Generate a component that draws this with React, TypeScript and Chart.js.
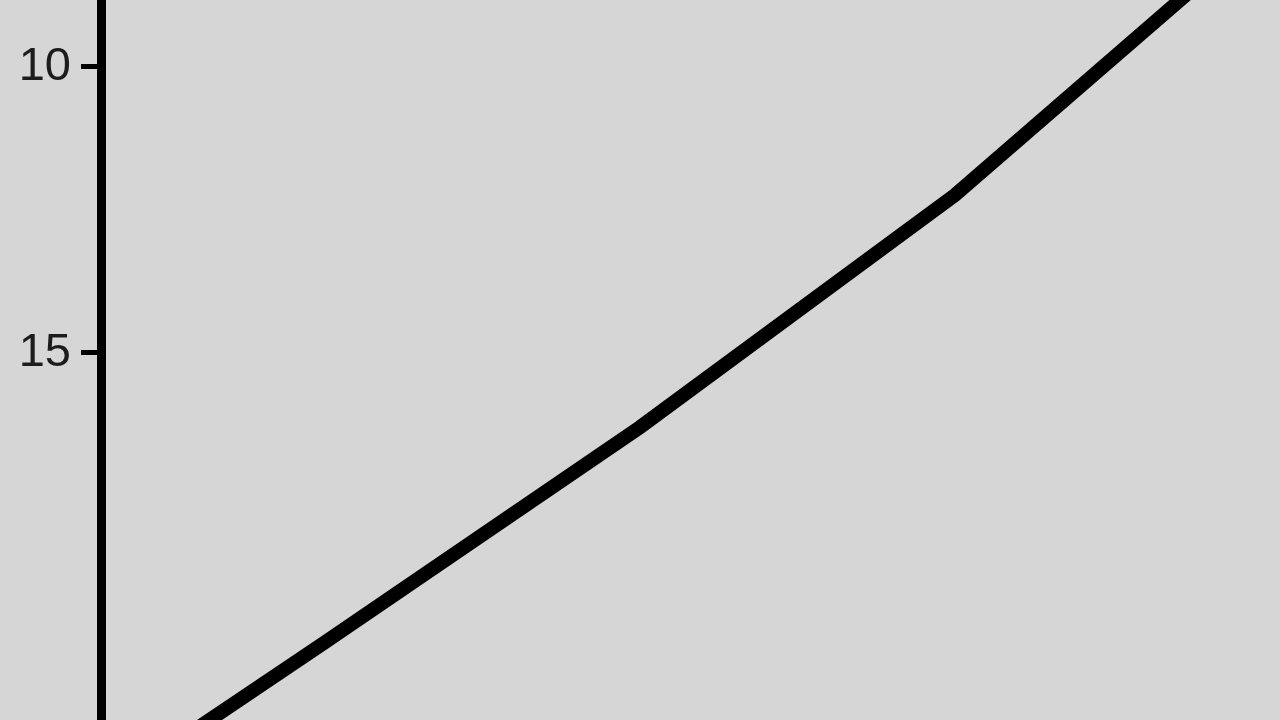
import React, { useEffect, useRef } from "react";
import { Chart, registerables } from "chart.js";

Chart.register(...registerables);

// Data (x positions in arbitrary units, y values on a reversed axis)
const xValues = [0, 1, 2, 3, 4];
const yValues = [23.77, 20.06, 16.3, 12.24, 7.47];
const yTicks = [10, 15];

const xMin = 0.289;
const xMax = 4.032;
const yMin = 8.83;
const yMax = 21.42;

export default function App() {
  const ref = useRef<HTMLCanvasElement | null>(null);

  useEffect(() => {
    if (!ref.current) return;
    const chart = new Chart(ref.current, {
      type: "line",
      data: {
        datasets: [
          {
            data: xValues.map((x, i) => ({ x, y: yValues[i] })),
            borderColor: "#000000",
            borderWidth: 14,
            pointRadius: 0,
            tension: 0,
            fill: false,
          },
        ],
      },
      options: {
        animation: false,
        responsive: true,
        maintainAspectRatio: false,
        layout: { padding: 0 },
        plugins: {
          legend: { display: false },
          tooltip: { enabled: false },
          title: { display: false },
        },
        scales: {
          x: {
            type: "linear",
            min: xMin,
            max: xMax,
            display: false,
          },
          y: {
            type: "linear",
            reverse: true,
            min: yMin,
            max: yMax,
            afterBuildTicks: (scale: any) => {
              scale.ticks = yTicks.map((v) => ({ value: v }));
            },
            afterFit: (scale: any) => {
              scale.width = 101;
              scale.paddingTop = 0;
              scale.paddingBottom = 0;
            },
            border: { display: true, color: "#000000", width: 9 },
            grid: {
              drawOnChartArea: false,
              drawTicks: true,
              tickLength: 20,
              tickWidth: 5,
              tickColor: "#000000",
            },
            ticks: {
              color: "#1c1c1c",
              padding: 10,
              font: { family: "'Liberation Sans', Arial, sans-serif", size: 47 },
            },
          },
        },
      },
    });
    return () => chart.destroy();
  }, []);

  return (
    <div
      style={{
        position: "fixed",
        left: 0,
        top: 0,
        width: 1280,
        height: 720,
        background: "#d6d6d6",
      }}
    >
      <canvas ref={ref} />
    </div>
  );
}
